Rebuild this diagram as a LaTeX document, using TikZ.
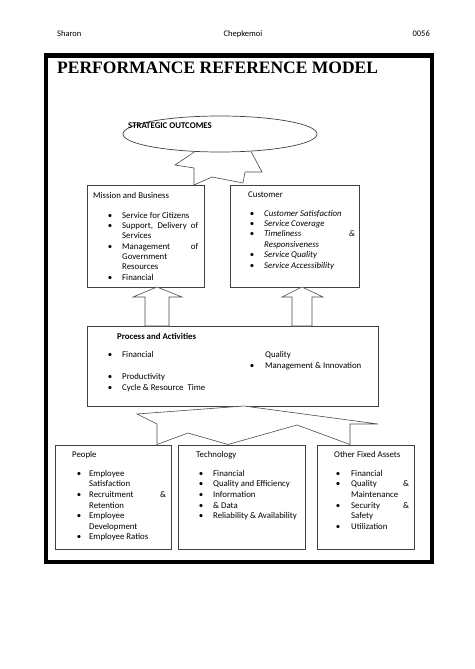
\documentclass[tikz,border=0pt]{standalone}
\usepackage{fontspec}
\setmainfont{Carlito}
\newfontfamily\titlefont{Liberation Serif}
\usetikzlibrary{shapes.geometric}
\newcommand\bodysz{\fontsize{8.8}{10}\selectfont}
\tikzset{
  box/.style={draw=black!75, line width=0.7pt, rectangle, anchor=north west, inner sep=0pt},
  txt/.style={anchor=base west, inner sep=0pt, font=\bodysz},
  itx/.style={txt, font=\bodysz\itshape},
  bul/.style={anchor=base, inner sep=0pt, font=\bodysz},
  hd/.style={anchor=base, inner sep=0pt, font=\fontsize{8.5}{10}\selectfont},
  blockarrow/.style={draw=black!70, line width=0.6pt, line join=miter, fill=white},
}
\begin{document}
\begin{tikzpicture}[x=1pt,y=-1pt]
\useasboundingbox (0,0) rectangle (474,669);
% header
\node[hd, anchor=base west] (h1) at (57,37) {Sharon};
\node[hd] (h2) at (243,37) {Chepkemoi};
\node[hd, anchor=base east] (h3) at (430,37) {0056};
% frame
\node[draw, line width=4.2pt, rectangle, anchor=north west, inner sep=0pt,
      minimum width=386pt, minimum height=506pt] (frame) at (44,53.5) {};
\node[anchor=base west, inner sep=0pt, font=\titlefont\bfseries\fontsize{17.5}{20}\selectfont] (title) at (57,73.5) {PERFORMANCE REFERENCE MODEL};
% top block arrow
\draw[blockarrow] (195,151.5) -- (175,165) -- (194,168) -- (194,185) -- (212,177) -- (243,183) -- (245,172) -- (262,172) -- (251,151.5);
% ellipse
\node[draw=black!75, line width=0.7pt, ellipse, inner sep=0pt, minimum width=194pt, minimum height=36pt] (goal) at (220,134) {};
\node[anchor=base west, inner sep=0pt, font=\bodysz\bfseries] (goalt) at (128,128) {STRATEGIC OUTCOMES};
% boxes
\node[box, minimum width=117pt, minimum height=102pt] (mission) at (87,185) {};
\node[box, minimum width=129pt, minimum height=102pt] (customer) at (230,185) {};
\node[box, minimum width=291pt, minimum height=80pt] (process) at (87,326) {};
\node[box, minimum width=116pt, minimum height=104pt] (people) at (55,445) {};
\node[box, minimum width=127pt, minimum height=104pt] (tech) at (178,445) {};
\node[box, minimum width=97pt, minimum height=104pt] (other) at (317,445) {};
% vertical block arrows
\draw[blockarrow] (157,287) -- (182,297) -- (169,297) -- (169,326) -- (145,326) -- (145,297) -- (133,297) -- cycle;
\draw[blockarrow] (302,287) -- (323,297) -- (312,297) -- (312,326) -- (292,326) -- (292,297) -- (282,297) -- cycle;
% bottom block arrow
\draw[blockarrow] (244,406) -- (137,414) -- (157,424) -- (157,444.5) -- (188,433) -- (228,444.5) -- (297,425) -- (350,444.5) -- (350,424) -- (378,424) -- cycle;
% Mission and Business
\node[txt] (mt) at (93,198) {Mission and Business};
\node[bul] (mb1) at (110,218) {\textbullet};
\node[txt] (m1) at (122,218) {Service for Citizens};
\node[bul] (mb2) at (110,228.3) {\textbullet};
\node[txt] (m2) at (122,228.3) {\makebox[76pt][s]{Support, Delivery of}};
\node[txt] (m3) at (122,238.7) {Services};
\node[bul] (mb4) at (110,249) {\textbullet};
\node[txt] (m4) at (122,249) {\makebox[76pt][s]{Management of}};
\node[txt] (m5) at (122,259.3) {Government};
\node[txt] (m6) at (122,269.7) {Resources};
\node[bul] (mb7) at (110,280) {\textbullet};
\node[txt] (m7) at (122,280) {Financial};
% Customer
\node[txt] (ct) at (248,197) {Customer};
\node[bul] (cb1) at (252,216) {\textbullet};
\node[itx] (c1) at (264,216) {Customer Satisfaction};
\node[bul] (cb2) at (252,226.4) {\textbullet};
\node[itx] (c2) at (264,226.4) {Service Coverage};
\node[bul] (cb3) at (252,236.8) {\textbullet};
\node[itx] (c3) at (264,236.8) {\makebox[91pt][s]{Timeliness \&}};
\node[itx] (c4) at (264,247.2) {Responsiveness};
\node[bul] (cb5) at (252,257.6) {\textbullet};
\node[itx] (c5) at (264,257.6) {Service Quality};
\node[bul] (cb6) at (252,268) {\textbullet};
\node[itx] (c6) at (264,268) {Service Accessibility};
% Process and Activities
\node[txt, font=\bodysz\bfseries] (pt) at (117,339) {Process and Activities};
\node[bul] (pb1) at (110,357) {\textbullet};
\node[txt] (p1) at (122,357) {Financial};
\node[bul] (pb2) at (110,379) {\textbullet};
\node[txt] (p2) at (122,379) {Productivity};
\node[bul] (pb3) at (110,390) {\textbullet};
\node[txt] (p3) at (122,390) {Cycle \& Resource\ \ Time};
\node[txt] (p4) at (265,357) {Quality};
\node[bul] (pb5) at (252,368) {\textbullet};
\node[txt] (p5) at (265,368) {Management \& Innovation};
% People
\node[txt] (et) at (72,457) {People};
\node[bul] (eb1) at (79,476.3) {\textbullet};
\node[txt] (e1) at (89,476.3) {Employee};
\node[txt] (e2) at (89,486.9) {Satisfaction};
\node[bul] (eb3) at (79,497.4) {\textbullet};
\node[txt] (e3) at (89,497.4) {\makebox[77pt][s]{Recruitment \&}};
\node[txt] (e4) at (89,508) {Retention};
\node[bul] (eb5) at (79,518.5) {\textbullet};
\node[txt] (e5) at (89,518.5) {Employee};
\node[txt] (e6) at (89,529.1) {Development};
\node[bul] (eb7) at (79,539.6) {\textbullet};
\node[txt] (e7) at (89,539.6) {Employee Ratios};
% Technology
\node[txt] (tt) at (196,457) {Technology};
\node[bul] (tb1) at (201,476.3) {\textbullet};
\node[txt] (t1) at (213,476.3) {Financial};
\node[bul] (tb2) at (201,486.9) {\textbullet};
\node[txt] (t2) at (213,486.9) {Quality and Efficiency};
\node[bul] (tb3) at (201,497.4) {\textbullet};
\node[txt] (t3) at (213,497.4) {Information};
\node[bul] (tb4) at (201,508) {\textbullet};
\node[txt] (t4) at (213,508) {\& Data};
\node[bul] (tb5) at (201,518.5) {\textbullet};
\node[txt] (t5) at (213,518.5) {Reliability \& Availability};
% Other Fixed Assets
\node[txt] (ot) at (334,457) {Other Fixed Assets};
\node[bul] (ob1) at (338,476.3) {\textbullet};
\node[txt] (o1) at (351,476.3) {Financial};
\node[bul] (ob2) at (338,486.9) {\textbullet};
\node[txt] (o2) at (351,486.9) {\makebox[58pt][s]{Quality \&}};
\node[txt] (o3) at (351,497.4) {Maintenance};
\node[bul] (ob4) at (338,508) {\textbullet};
\node[txt] (o4) at (351,508) {\makebox[58pt][s]{Security \&}};
\node[txt] (o5) at (351,518.5) {Safety};
\node[bul] (ob6) at (338,529.1) {\textbullet};
\node[txt] (o6) at (351,529.1) {Utilization};
\end{tikzpicture}
\end{document}
